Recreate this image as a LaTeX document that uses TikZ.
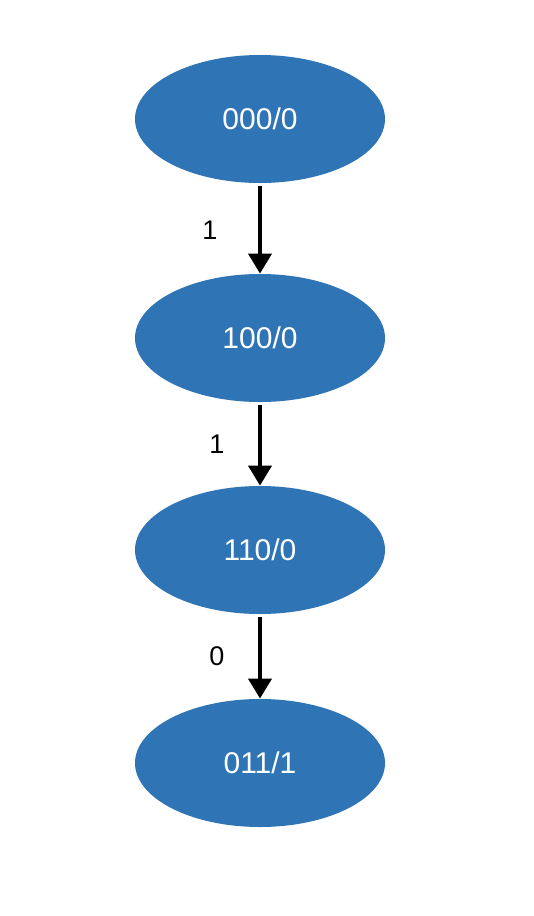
\documentclass[tikz,border=0pt]{standalone}
\usepackage{fontspec}
\setmainfont{Liberation Sans}
\usetikzlibrary{shapes.geometric,arrows.meta}
\definecolor{stateblue}{RGB}{47,117,181}
\tikzset{
    state-node/.style = {ellipse, fill=stateblue, draw=none, inner sep=0pt, minimum width=125pt, minimum height=64pt, text=white, font=\fontsize{15}{18}\selectfont},
    edge-arrow/.style = {line width=2pt, -{Triangle[length=10pt,width=11.5pt]}, shorten <=1.5pt},
    edge-label/.style = {font=\fontsize{13.5}{16}\selectfont, text=black},
}
\begin{document}
\begin{tikzpicture}[x=0.5pt,y=-0.5pt]
\useasboundingbox (0,0) rectangle (534,916);
\node[state-node] (s000) at (260,119) {000/0};
\node[state-node] (s100) at (260,338) {100/0};
\node[state-node] (s110) at (260,550) {110/0};
\node[state-node] (s011) at (260,763) {011/1};
\draw[edge-arrow] (s000) -- node[edge-label, xshift=-25pt, yshift=-1pt] {1} (s100);
\draw[edge-arrow] (s100) -- node[edge-label, xshift=-21.5pt] {1} (s110);
\draw[edge-arrow] (s110) -- node[edge-label, xshift=-21.5pt] {0} (s011);
\end{tikzpicture}
\end{document}
